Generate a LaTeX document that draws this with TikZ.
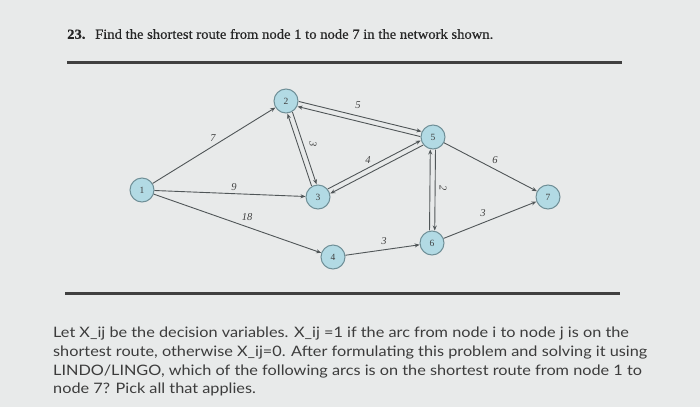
\documentclass[tikz,border=0pt]{standalone}
\usepackage{fontspec}
\setmainfont{Liberation Serif}
\newfontfamily\latofont[FakeStretch=1.13]{Lato}
\newfontfamily\titlefont[FakeStretch=1.06,FakeBold=0.5]{Liberation Serif}
\usetikzlibrary{arrows.meta,calc}
\definecolor{bgc}{HTML}{E8EAEA}
\definecolor{nodefill}{HTML}{B2DAE4}
\definecolor{nodeline}{HTML}{6F8F97}
\definecolor{edgec}{HTML}{505658}
\definecolor{txtc}{HTML}{3C3C3C}
\tikzset{
  nd/.style={circle,draw=nodeline,fill=nodefill,line width=1pt,minimum size=24pt,inner sep=0pt,font=\fontsize{9.5}{9.5}\selectfont,text=black!75},
  arc/.style={draw=edgec,line width=0.9pt,-{Stealth[length=5pt,width=4pt]}},
  parc/.style={arc,shorten >=12.5pt,shorten <=12.5pt},
  lab/.style={font=\fontsize{10.5}{10.5}\selectfont\itshape,text=black!75,inner sep=0pt},
  rule/.style={line width=3pt,draw=black!75},
}
\begin{document}
\begin{tikzpicture}[x=1pt,y=-1pt]
\fill[bgc] (0,0) rectangle (700,407);
\useasboundingbox (0,0) rectangle (700,407);
% title
\node[anchor=west,inner sep=0pt,text=black!85,font=\titlefont\fontsize{13.8}{13.8}\selectfont] (title) at (67,34) {\textbf{23.}\hspace{0.7em}Find the shortest route from node 1 to node 7 in the network shown.};
\coordinate (r1a) at (67,62);
\coordinate (r1b) at (622,62);
\draw[rule] (r1a) -- (r1b);
\coordinate (r2a) at (65,293);
\coordinate (r2b) at (620,293);
\draw[rule] (r2a) -- (r2b);
% nodes
\node[nd] (n1) at (142,190) {1};
\node[nd] (n2) at (286,101) {2};
\node[nd] (n3) at (318,197) {3};
\node[nd] (n4) at (333,257) {4};
\node[nd] (n5) at (433,137) {5};
\node[nd] (n6) at (432,243) {6};
\node[nd] (n7) at (548,197) {7};
% single arcs
\draw[arc] (n1) -- (n2);
\draw[arc] (n1) -- (n3);
\draw[arc] (n1) -- (n4);
\draw[arc] (n4) -- (n6);
\draw[arc] (n5) -- (n7);
\draw[arc] (n6) -- (n7);
% paired arcs
\foreach \a/\b in {n2/n3,n3/n2,n2/n5,n5/n2,n3/n5,n5/n3,n5/n6,n6/n5}{
  \draw[parc] ($(\a)!2.6pt!90:(\b)$) -- ($(\b)!2.6pt!-90:(\a)$);
}
% labels
\node[lab] (l12) at (213,138) {7};
\node[lab] (l13) at (234,187) {9};
\node[lab] (l14) at (247,217) {18};
\node[lab,rotate=-90] (l23) at (313,144) {3};
\node[lab] (l25) at (358,105) {5};
\node[lab] (l35) at (368,160) {4};
\node[lab,rotate=-90] (l56) at (443,188) {2};
\node[lab] (l57) at (495,160) {6};
\node[lab] (l67) at (483,213) {3};
\node[lab] (l46) at (384,241) {3};
% question text
\node[anchor=north west,inner sep=0pt,align=left,text=txtc,font=\latofont\fontsize{14.4}{18.6}\selectfont] (q) at (53,327) {Let X\_ij be the decision variables. X\_ij =1 if the arc from node i to node j is on the\\shortest route, otherwise X\_ij=0. After formulating this problem and solving it using\\LINDO/LINGO, which of the following arcs is on the shortest route from node 1 to\\node 7? Pick all that applies.};
\end{tikzpicture}
\end{document}
